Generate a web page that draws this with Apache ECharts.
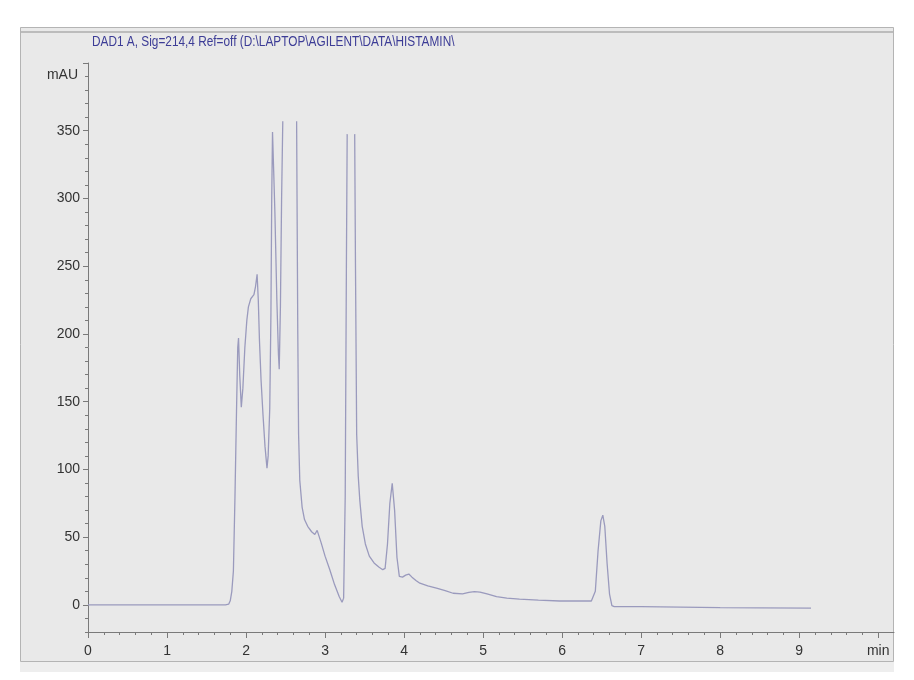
<!DOCTYPE html>
<html lang="en">
<head>
    <meta charset="UTF-8">
    <title>DAD1 A - HISTAMIN</title>
    <script src="https://cdn.jsdelivr.net/npm/echarts@6/dist/echarts.min.js"></script>
    <style>
        html, body { margin: 0; padding: 0; background: #ffffff; }
        #showDiv { width: 914px; height: 680px; }
    </style>
</head>
<body>
<div id="showDiv"></div>
<script type="text/javascript">

	// retention time (min) and detector signal (mAU)
	// '-' marks where the trace leaves the top of the plot
	var timeMin = [
		0, 1.74, 1.78, 1.80, 1.82, 1.84, 1.86, 1.88, 1.895, 1.905,
		1.92, 1.94, 1.96, 1.985, 2.01, 2.03, 2.06, 2.10, 2.12, 2.14,
		2.155, 2.17, 2.19, 2.215, 2.24, 2.265, 2.28, 2.30, 2.315, 2.325,
		2.335, 2.35, 2.365, 2.39, 2.41, 2.42, 2.435, 2.45, 2.465, 2.55,
		2.64, 2.655, 2.665, 2.68, 2.71, 2.74, 2.78, 2.83, 2.87, 2.90,
		2.92, 2.95, 3.00, 3.06, 3.12, 3.18, 3.215, 3.235, 3.255, 3.27,
		3.28, 3.33, 3.375, 3.385, 3.40, 3.42, 3.44, 3.47, 3.51, 3.56,
		3.62, 3.68, 3.73, 3.76, 3.79, 3.82, 3.85, 3.88, 3.91, 3.94,
		3.98, 4.02, 4.06, 4.10, 4.15, 4.20, 4.30, 4.41, 4.52, 4.62,
		4.74, 4.82, 4.89, 4.96, 5.05, 5.17, 5.30, 5.46, 5.70, 5.97,
		6.20, 6.37, 6.395, 6.42, 6.455, 6.49, 6.515, 6.54, 6.57, 6.60,
		6.63, 6.66, 7.00, 7.50, 8.00, 8.50, 9.15
	];
	var signalMAU = [
		0, 0, 0.5, 3, 10, 25, 80, 145, 190, 197,
		170, 146, 160, 190, 210, 220, 226, 229, 235, 244,
		225, 195, 166, 140, 117, 101, 110, 145, 215, 300,
		349, 320, 290, 225, 185, 174, 220, 300, 357, '-',
		357, 200, 126, 92, 72, 63, 58, 54, 52, 55,
		54, 46, 36, 26, 15, 6, 2, 5, 80, 250,
		347.5, '-', 347.5, 250, 126, 95, 77, 58, 45, 36,
		31, 28, 26, 27, 45, 75, 89.7, 70, 35, 21,
		20.5, 22, 22.8, 20.5, 18, 16, 14, 12.3, 10.5, 8.6,
		8.1, 9.3, 9.8, 9.5, 8.2, 6.1, 5.0, 4.2, 3.5, 2.9,
		2.9, 2.9, 1.7, 10, 40, 62, 66.3, 58, 30, 8,
		-0.5, -1.2, -1.3, -1.6, -2.0, -2.2, -2.4
	];

	var yLabelValues = [0, 50, 100, 150, 200, 250, 300, 350];
	var xLabelValues = [0, 1, 2, 3, 4, 5, 6, 7, 8, 9, 10];
	var yMinorTicks = [];
	for (var v = -20; v <= 400; v += 10) { yMinorTicks.push(v); }
	var xMinorTicks = [];
	for (var t = 0; t <= 50; t++) { xMinorTicks.push(t / 5); }

	var titleText = 'DAD1 A, Sig=214,4 Ref=off (D:\\LAPTOP\\AGILENT\\DATA\\HISTAMIN\\';

	var seriesData = [];
	for (var i = 0; i < timeMin.length; i++) {
		seriesData.push([timeMin[i], signalMAU[i]]);
	}

	var narrow = '"Liberation Sans Narrow", "Liberation Sans", Arial, sans-serif';
	var axisCol = '#7a7a7a';

	var dom = document.getElementById("showDiv");
	var myChart = echarts.init(dom);

	var option = {
		backgroundColor: '#ffffff',
		animation: false,
		graphic: [
			{ type: 'rect', z: -10, shape: { x: 20, y: 27, width: 874, height: 645 },
				style: { fill: '#eeeeee' } },
			{ type: 'rect', z: -9, shape: { x: 20.5, y: 27.5, width: 873, height: 634 },
				style: { fill: '#e9e9e9', stroke: '#b4b4b4', lineWidth: 1 } },
			{ type: 'line', z: -8, shape: { x1: 21, y1: 32, x2: 893, y2: 32 },
				style: { stroke: '#bcbcbc', lineWidth: 2 } },
			// condensed look of the instrument's title font
			{ type: 'text', x: 92, y: 35, scaleX: 0.845,
				style: { text: titleText, fill: '#3c3c96', font: '14px ' + narrow } }
		],
		grid: { left: 88, right: 20, top: 63, bottom: 48 },
		xAxis: [
			{
				type: 'value', min: 0, max: 10.2,
				splitLine: { show: false },
				axisLine: { onZero: false, lineStyle: { color: axisCol } },
				axisTick: { customValues: xLabelValues, length: 6, lineStyle: { color: axisCol } },
				axisLabel: {
					customValues: xLabelValues, margin: 12,
					color: '#333', fontFamily: narrow, fontSize: 14,
					formatter: function (val) { return val === 10 ? 'min' : String(val); }
				}
			},
			{
				type: 'value', min: 0, max: 10.2, position: 'bottom',
				splitLine: { show: false },
				axisLine: { show: false, onZero: false },
				axisTick: { customValues: xMinorTicks, length: 3, lineStyle: { color: axisCol } },
				axisLabel: { show: false }
			}
		],
		yAxis: [
			{
				type: 'value', min: -20, max: 400,
				name: 'mAU', nameLocation: 'end', nameGap: -12,
				nameTextStyle: { align: 'right', verticalAlign: 'middle', padding: [0, 10, 0, 0],
					color: '#333', fontFamily: narrow, fontSize: 14 },
				splitLine: { show: false },
				axisLine: { show: true, onZero: false, lineStyle: { color: axisCol } },
				axisTick: { customValues: yLabelValues.concat([400]), length: 5, lineStyle: { color: axisCol } },
				axisLabel: { customValues: yLabelValues, margin: 8,
					color: '#333', fontFamily: narrow, fontSize: 14 }
			},
			{
				type: 'value', min: -20, max: 400, position: 'left',
				splitLine: { show: false },
				axisLine: { show: false, onZero: false },
				axisTick: { customValues: yMinorTicks, length: 3, lineStyle: { color: axisCol } },
				axisLabel: { show: false }
			}
		],
		series: [
			{
				name: 'DAD1 A',
				type: 'line',
				xAxisIndex: 0,
				yAxisIndex: 0,
				showSymbol: false,
				connectNulls: false,
				data: seriesData,
				lineStyle: { color: '#9a9abd', width: 1.3 }
			}
		]
	};

	if (option && typeof option === "object") {
		myChart.setOption(option, true);
	}
</script>
</body>
</html>
